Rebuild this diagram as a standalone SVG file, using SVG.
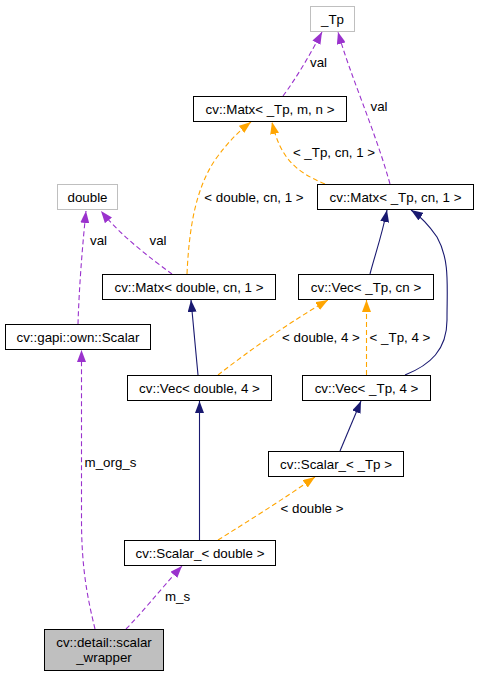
<svg xmlns="http://www.w3.org/2000/svg" width="479" height="676" viewBox="0 0 479 676">
<style>
text{font-family:"Liberation Sans",Arial,sans-serif;font-size:13.33px;fill:#000}
.n{text-anchor:middle}
.box{fill:#fff;stroke:#000;stroke-width:1}
.gbox{fill:#fff;stroke:#bfbfbf;stroke-width:1}
.cur{fill:#bfbfbf;stroke:#000;stroke-width:1}
.e{fill:none;stroke-width:1.1}
.p{stroke:#9a32cd;stroke-dasharray:5,3;marker-end:url(#ap)}
.o{stroke:#ffa500;stroke-dasharray:5,3;marker-end:url(#ao)}
.b{stroke:#191970;marker-end:url(#ab)}
.l{text-anchor:middle}
</style>
<defs>
<marker id="ap" viewBox="0 0 12 9" markerUnits="userSpaceOnUse" markerWidth="12" markerHeight="9" refX="12" refY="4.5" orient="auto"><path d="M0,0 L12,4.5 L0,9 z" fill="#9a32cd"/></marker>
<marker id="ao" viewBox="0 0 12 9" markerUnits="userSpaceOnUse" markerWidth="12" markerHeight="9" refX="12" refY="4.5" orient="auto"><path d="M0,0 L12,4.5 L0,9 z" fill="#ffa500"/></marker>
<marker id="ab" viewBox="0 0 12 9" markerUnits="userSpaceOnUse" markerWidth="12" markerHeight="9" refX="12" refY="4.5" orient="auto"><path d="M0,0 L12,4.5 L0,9 z" fill="#191970"/></marker>
</defs>
<g id="connectors">
<path class="e p" d="M283,96 C295,80 310,55 322,32"/>
<text class="l" x="318.5" y="66.5">val</text>
<path class="e p" d="M390,184 C375,130 350,75 338,32"/>
<text class="l" x="379" y="111">val</text>
<path class="e o" d="M325,184 C296,172 280,158 272,122"/>
<text class="l" x="334" y="157">&lt; _Tp, cn, 1 &gt;</text>
<path class="e o" d="M187,274 C189,230 195,190 215,160 C228,142 238,132 251,122"/>
<text class="l" x="254" y="201.5">&lt; double, cn, 1 &gt;</text>
<path class="e p" d="M172,274 C150,258 120,235 101,211"/>
<text class="l" x="158" y="245">val</text>
<path class="e p" d="M78,324 C79,290 82,250 86,211"/>
<text class="l" x="98.5" y="245">val</text>
<path class="e b" d="M370,274 C375,255 382,235 387,210"/>
<path class="e b" d="M405,375 C430,365 447,350 447,320 C447,285 450,260 437,237 C428,224 420,216 411,210"/>
<path class="e b" d="M198,375 L191,300"/>
<path class="e o" d="M218,375 C250,350 290,322 328,300"/>
<text class="l" x="321" y="341.5">&lt; double, 4 &gt;</text>
<path class="e o" d="M366.5,375 L366.5,300"/>
<text class="l" x="400" y="341.5">&lt; _Tp, 4 &gt;</text>
<path class="e b" d="M340,451 L361,401"/>
<path class="e b" d="M199.5,540 L199.5,401"/>
<path class="e o" d="M218,540 C250,520 285,498 315,477"/>
<text class="l" x="312" y="512.5">&lt; double &gt;</text>
<path class="e p" d="M126,629 C140,615 160,590 182,566"/>
<text class="l" x="177.5" y="601">m_s</text>
<path class="e p" d="M95,629 C88,600 81.5,570 81.5,520 L81.5,350"/>
<text class="l" x="110.5" y="467">m_org_s</text>
</g>
<g id="node_Tp"><rect class="gbox" x="310.5" y="6.5" width="44" height="25"/><text class="n" x="332.5" y="23.5">_Tp</text></g>
<g id="node_Matx_Tp_m_n"><rect class="box" x="193.5" y="96.5" width="153" height="25"/><text class="n" x="270" y="113.5">cv::Matx&lt; _Tp, m, n &gt;</text></g>
<g id="node_Matx_Tp_cn_1"><rect class="box" x="317.5" y="184.5" width="156" height="25"/><text class="n" x="395.5" y="201.5">cv::Matx&lt; _Tp, cn, 1 &gt;</text></g>
<g id="node_double"><rect class="gbox" x="57.5" y="184.5" width="60" height="25"/><text class="n" x="87.5" y="201.5">double</text></g>
<g id="node_Matx_double_cn_1"><rect class="box" x="102.5" y="274.5" width="173" height="25"/><text class="n" x="189" y="291.5">cv::Matx&lt; double, cn, 1 &gt;</text></g>
<g id="node_gapi_own_Scalar"><rect class="box" x="5.5" y="324.5" width="145" height="25"/><text class="n" x="78" y="341.5">cv::gapi::own::Scalar</text></g>
<g id="node_Vec_Tp_cn"><rect class="box" x="298.5" y="274.5" width="135" height="25"/><text class="n" x="366" y="291.5">cv::Vec&lt; _Tp, cn &gt;</text></g>
<g id="node_Vec_double_4"><rect class="box" x="127.5" y="375.5" width="144" height="25"/><text class="n" x="199.5" y="392.5">cv::Vec&lt; double, 4 &gt;</text></g>
<g id="node_Vec_Tp_4"><rect class="box" x="302.5" y="375.5" width="128" height="25"/><text class="n" x="366.5" y="392.5">cv::Vec&lt; _Tp, 4 &gt;</text></g>
<g id="node_Scalar_Tp"><rect class="box" x="268.5" y="451.5" width="135" height="25"/><text class="n" x="336" y="468.5">cv::Scalar_&lt; _Tp &gt;</text></g>
<g id="node_Scalar_double"><rect class="box" x="124.5" y="540.5" width="151" height="25"/><text class="n" x="200" y="557.5">cv::Scalar_&lt; double &gt;</text></g>
<g id="node_scalar_wrapper"><rect class="cur" x="44.5" y="629.5" width="119" height="41"/><text class="n" x="104" y="646.5">cv::detail::scalar</text><text class="n" x="104" y="661.5">_wrapper</text></g>
</svg>
